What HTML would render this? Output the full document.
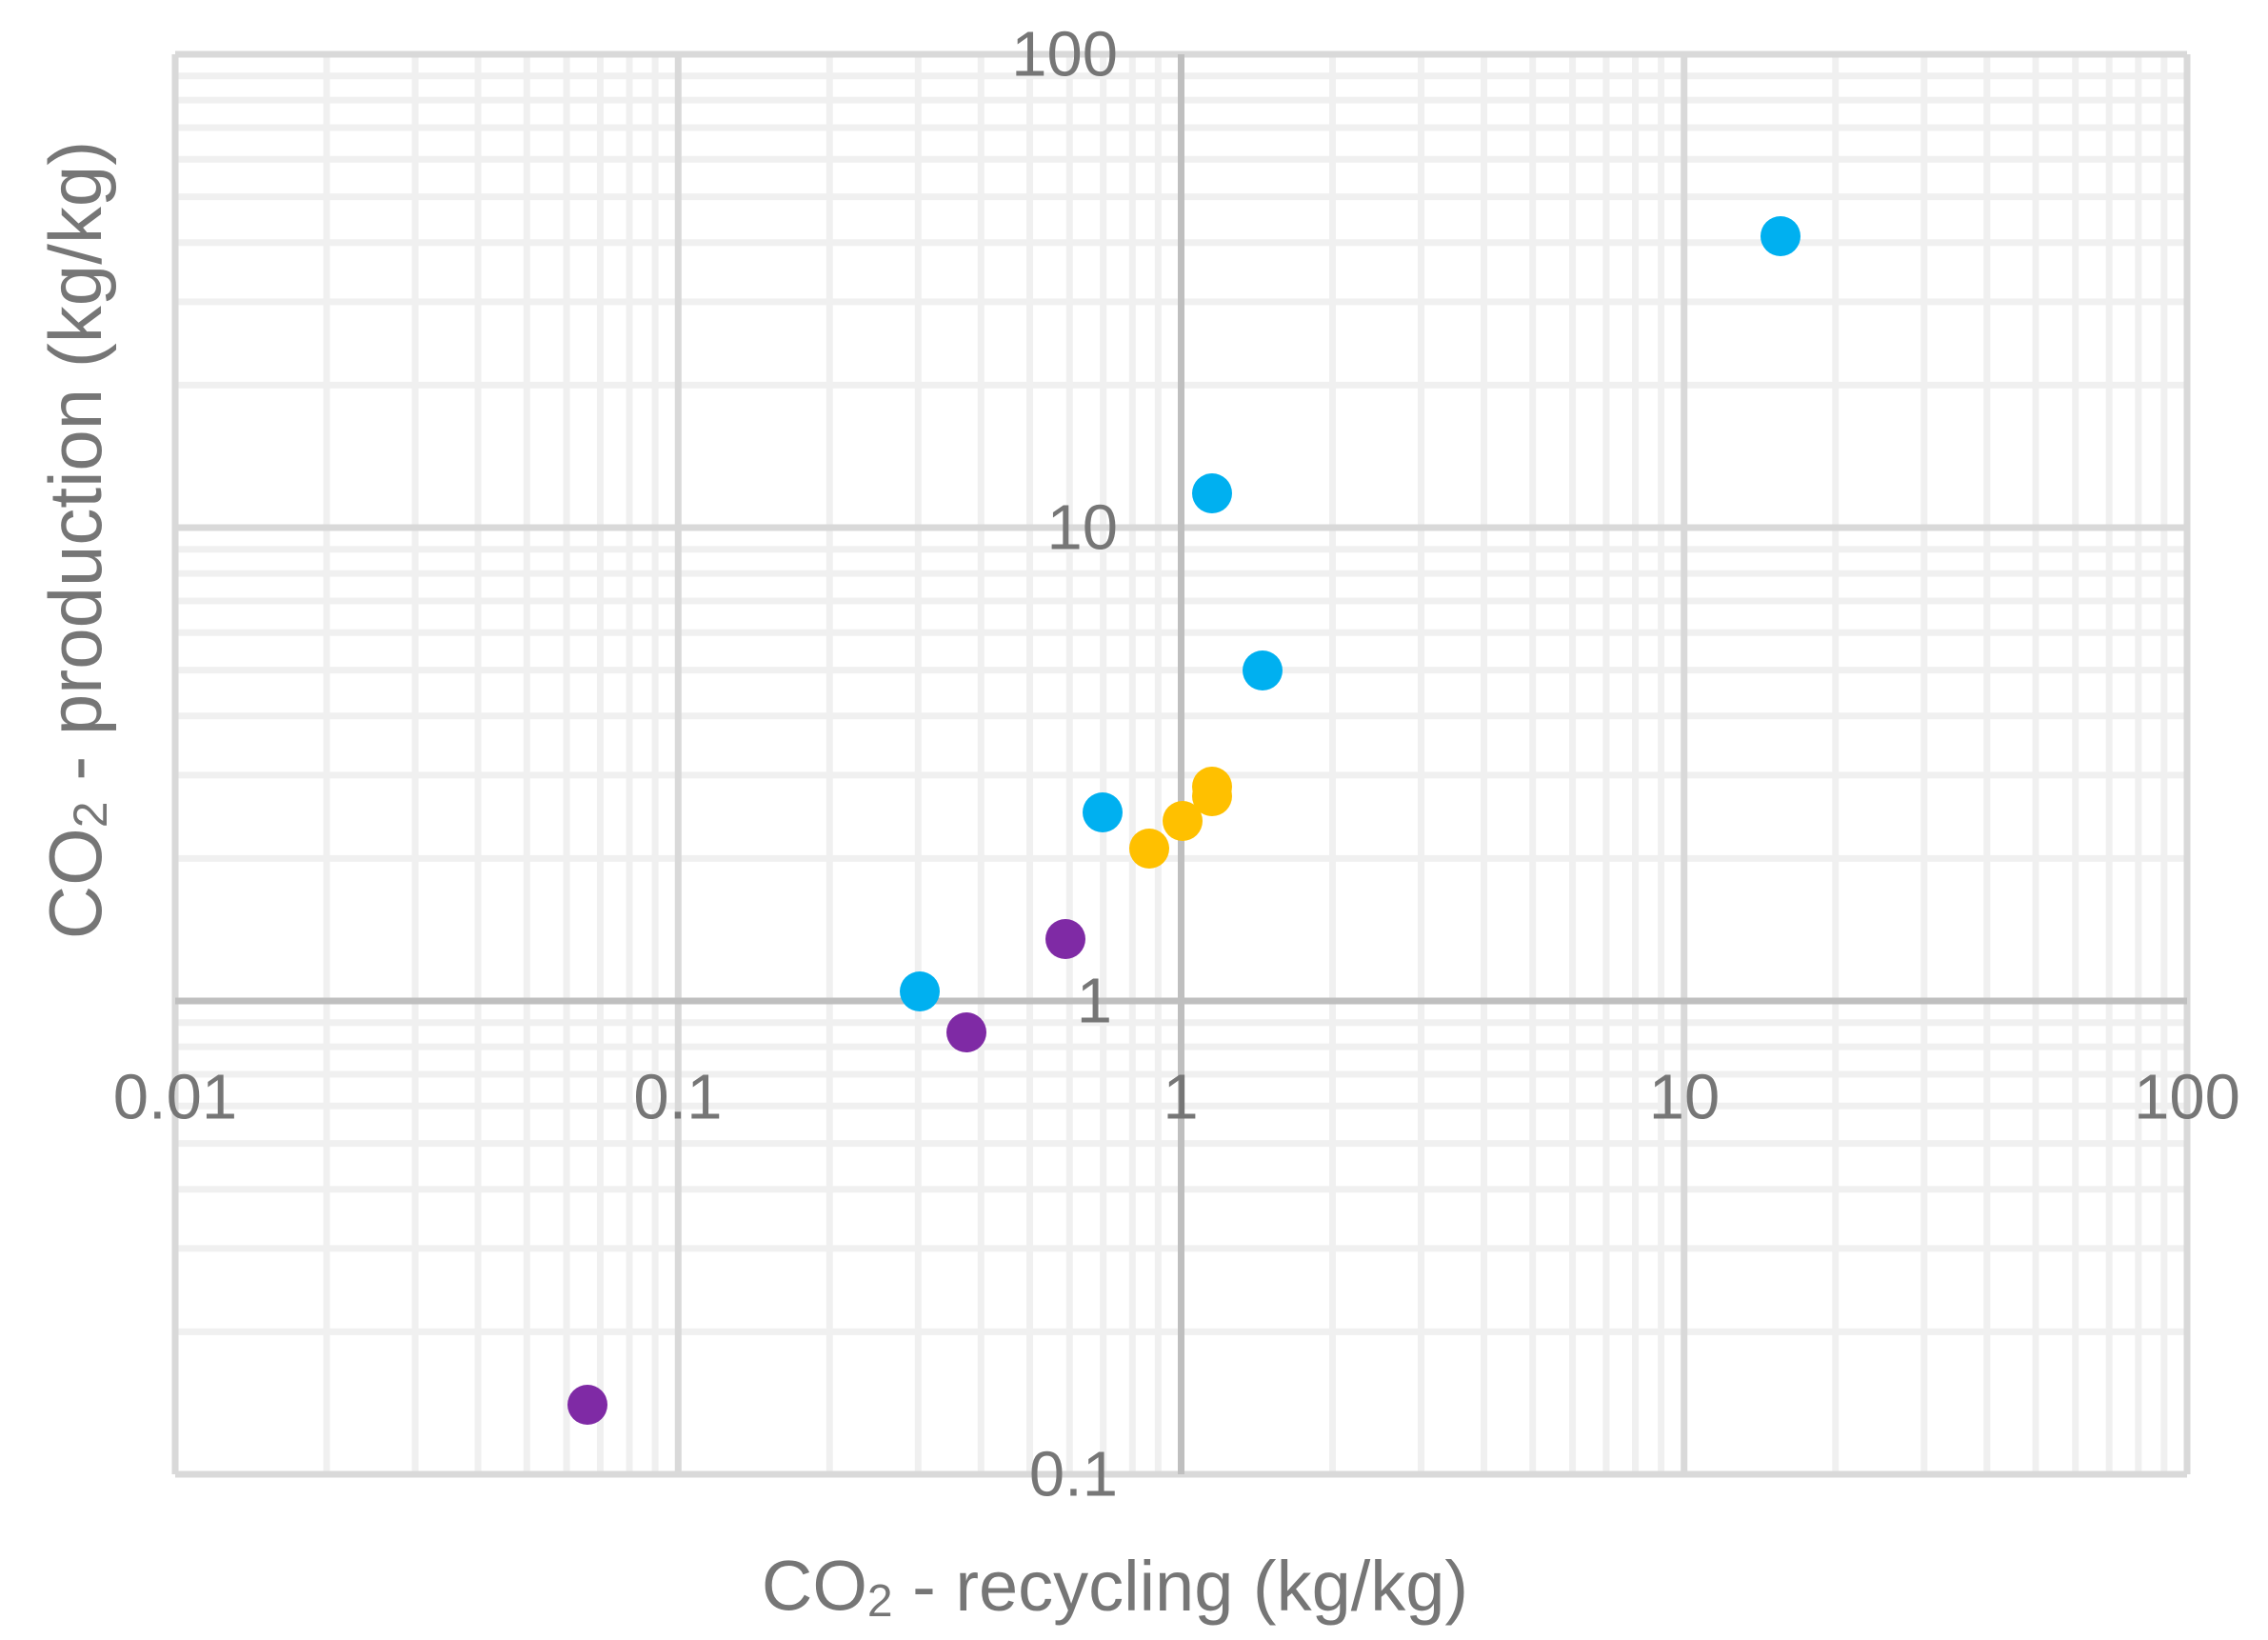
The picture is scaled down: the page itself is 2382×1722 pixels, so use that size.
<!DOCTYPE html>
<html><head><meta charset="utf-8"><style>html,body{margin:0;padding:0;background:#fff}svg{display:block}</style></head>
<body>
<svg id="s" width="2382" height="1722" viewBox="0 0 2382 1722" xmlns="http://www.w3.org/2000/svg" font-family="'Liberation Sans', sans-serif" fill="#767676">
<g id="grid"></g>
<g id="pts"></g>
<g font-size="67" text-anchor="end" dominant-baseline="central">
<text x="1174" y="57">100</text>
<text x="1174" y="554">10</text>
<text x="1168" y="1051">1</text>
<text x="1174" y="1548">0.1</text>
</g>
<g font-size="67" text-anchor="middle" dominant-baseline="central">
<text x="184" y="1152">0.01</text>
<text x="712" y="1152">0.1</text>
<text x="1240" y="1152">1</text>
<text x="1769" y="1152">10</text>
<text x="2297" y="1152">100</text>
</g>
<text x="1171" y="1665" font-size="74" text-anchor="middle" dominant-baseline="central">CO<tspan font-size="48" dy="16">2</tspan><tspan dy="-16"> - recycling (kg/kg)</tspan></text>
<text transform="translate(79,567) rotate(-90)" font-size="78" text-anchor="middle" dominant-baseline="central">CO<tspan font-size="50" dy="16">2</tspan><tspan dy="-16"> - production (kg/kg)</tspan></text>
</svg>
<script>
var L=184,R=2297,T=57,B=1548,xd=(R-L)/4,yd=(B-T)/3,ns="http://www.w3.org/2000/svg";
var g=document.getElementById('grid');
function line(x1,y1,x2,y2,c){var l=document.createElementNS(ns,'line');l.setAttribute('x1',x1);l.setAttribute('y1',y1);l.setAttribute('x2',x2);l.setAttribute('y2',y2);l.setAttribute('stroke',c);l.setAttribute('stroke-width',7);g.appendChild(l);}
for(var d=0;d<4;d++)for(var m=2;m<10;m++){var x=L+xd*(d+Math.log10(m));line(x,T,x,B,'#f0f0f0');}
for(var d=0;d<3;d++)for(var m=2;m<10;m++){var y=B-yd*(d+Math.log10(m));line(L,y,R,y,'#f0f0f0');}
for(var d=0;d<=4;d++){var x=L+xd*d;line(x,T,x,B,'#d9d9d9');}
for(var d=0;d<=3;d++){var y=T+yd*d;line(L,y,R,y,'#d9d9d9');}
line(L+xd*2,T,L+xd*2,B,'#bfbfbf');line(L,T+yd*2,R,T+yd*2,'#bfbfbf');
var P=[['#00b0f0',1870,248],['#00b0f0',1273,518],['#00b0f0',1326,704],['#00b0f0',1158,853],['#00b0f0',966,1041],
['#ffc000',1207,891],['#ffc000',1242,862],['#ffc000',1273,836],['#ffc000',1273,826],
['#7f2aa5',1119,986],['#7f2aa5',1015,1084],['#7f2aa5',617,1475]];
var pg=document.getElementById('pts');
P.forEach(function(p){var c=document.createElementNS(ns,'circle');c.setAttribute('cx',p[1]);c.setAttribute('cy',p[2]);c.setAttribute('r',21);c.setAttribute('fill',p[0]);pg.appendChild(c);});
</script>
</body></html>
